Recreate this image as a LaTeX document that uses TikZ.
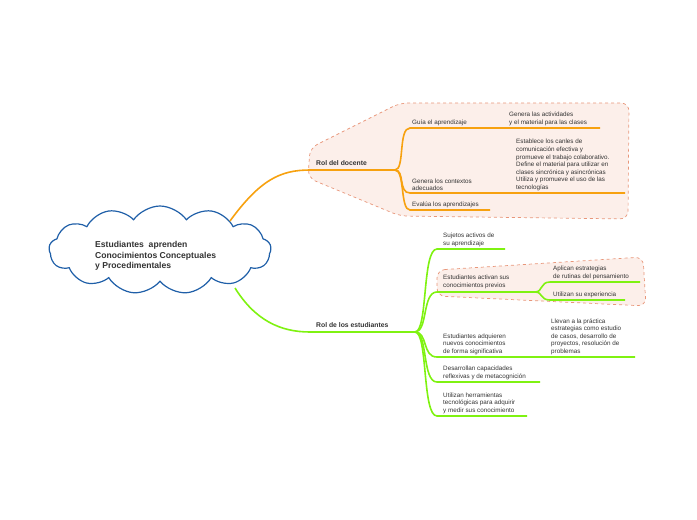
\documentclass[tikz,border=0pt]{standalone}
\usepackage{fontspec}
\setmainfont{Liberation Sans}
\usetikzlibrary{shapes.symbols}
\definecolor{og}{HTML}{F7A10F}
\definecolor{gr}{HTML}{7FF211}
\definecolor{dsh}{HTML}{E8967A}
\definecolor{pinkf}{HTML}{FCEFEA}
\definecolor{cb}{HTML}{1F5FA8}
\begin{document}
\begin{tikzpicture}[x=1pt,y=-1pt,
  txt/.style={font=\fontsize{6.3}{7.6}\selectfont,align=left,anchor=south west,inner sep=0pt,text=black!80},
  bold/.style={txt,font=\fontsize{6.8}{8}\selectfont\bfseries},
  ob/.style={og,line width=1.6pt},
  gb/.style={gr,line width=1.6pt},
  area/.style={draw=dsh,dashed,fill=pinkf,line width=0.7pt,rounded corners=8pt}]
\useasboundingbox (0,0) rectangle (697,520);
% highlighted areas
\draw[area] (400,103) -- (310,148) -- (308,178) -- (400,216) -- (628,219) -- (629,103) -- cycle;
\draw[area] (437,270) -- (643,257) -- (646,306) -- (437,296) -- cycle;
% cloud
\node[cloud, cloud puffs=13, cloud puff arc=110, aspect=2.6, draw=cb, line width=1.2pt, fill=white,
  minimum width=222pt, minimum height=88pt, inner sep=0pt] (root) at (160,250) {};
\node[txt,font=\fontsize{8.6}{10.6}\selectfont\bfseries,anchor=west] (roott) at (95,256) {Estudiantes\ \ aprenden\\Conocimientos Conceptuales\\y Procedimentales};
% docente
\coordinate (d0) at (230,221);
\coordinate (d1) at (395,170);
\node[bold] (rd) at (316,166) {Rol del docente};
\draw[ob] (d0) .. controls (260,180) and (280,170) .. (310,170) -- (d1);
\coordinate (g1) at (600,128);
\coordinate (g2) at (625,193);
\coordinate (g3) at (490,210);
\draw[ob] (d1) .. controls (405,170) and (398,128) .. (410,128) -- (g1);
\draw[ob] (d1) .. controls (405,170) and (398,193) .. (410,193) -- (g2);
\draw[ob] (d1) .. controls (405,170) and (400,210) .. (410,210) -- (g3);
\node[txt] (t1) at (412,126) {Guía el aprendizaje};
\node[txt] (t2) at (509,126) {Genera las actividades\\y el material para las clases};
\node[txt] (t3) at (412,191) {Genera los contextos\\adecuados};
\node[txt] (t4) at (516,191) {Establece los canles de\\comunicación efectiva y\\promueve el trabajo colaborativo.\\Define el material para utilizar en\\clases sincrónica y asincrónicas\\Utiliza y promueve el uso de las\\tecnologías};
\node[txt] (t5) at (412,208) {Evalúa los aprendizajes};
% estudiantes
\coordinate (e0) at (235,288);
\coordinate (e1) at (415,332);
\node[bold] (re) at (316,328) {Rol de los estudiantes};
\draw[gb] (e0) .. controls (255,320) and (280,332) .. (310,332) -- (e1);
\coordinate (s1) at (505,249);
\coordinate (s2) at (535,292);
\coordinate (s3) at (635,357);
\coordinate (s4) at (540,382);
\coordinate (s5) at (527,416);
\draw[gb] (e1) .. controls (428,332) and (422,249) .. (437,249) -- (s1);
\draw[gb] (e1) .. controls (428,332) and (422,292) .. (437,292) -- (s2);
\draw[gb] (e1) .. controls (428,332) and (422,357) .. (437,357) -- (s3);
\draw[gb] (e1) .. controls (428,332) and (422,382) .. (437,382) -- (s4);
\draw[gb] (e1) .. controls (428,332) and (422,416) .. (437,416) -- (s5);
\coordinate (a1) at (640,282);
\coordinate (a2) at (625,300);
\draw[gb] (s2) .. controls (543,292) and (540,282) .. (550,282) -- (a1);
\draw[gb] (s2) .. controls (543,292) and (540,300) .. (550,300) -- (a2);
\node[txt] (u1) at (443,247) {Sujetos activos de\\su aprendizaje};
\node[txt] (u2) at (443,289) {Estudiantes activan sus\\conocimientos previos};
\node[txt] (u3) at (553,280) {Aplican estrategias\\de rutinas del pensamiento};
\node[txt] (u4) at (553,298) {Utilizan su experiencia};
\node[txt] (u5) at (443,355) {Estudiantes adquieren\\nuevos conocimientos\\de forma significativa};
\node[txt] (u6) at (551,355) {Llevan a la práctica\\estrategias como estudio\\de casos, desarrollo de\\proyectos, resolución de\\problemas};
\node[txt] (u7) at (443,380) {Desarrollan capacidades\\reflexivas y de metacognición};
\node[txt] (u8) at (443,414) {Utilizan herramientas\\tecnológicas para adquirir\\y medir sus conocimiento};
\end{tikzpicture}
\end{document}
